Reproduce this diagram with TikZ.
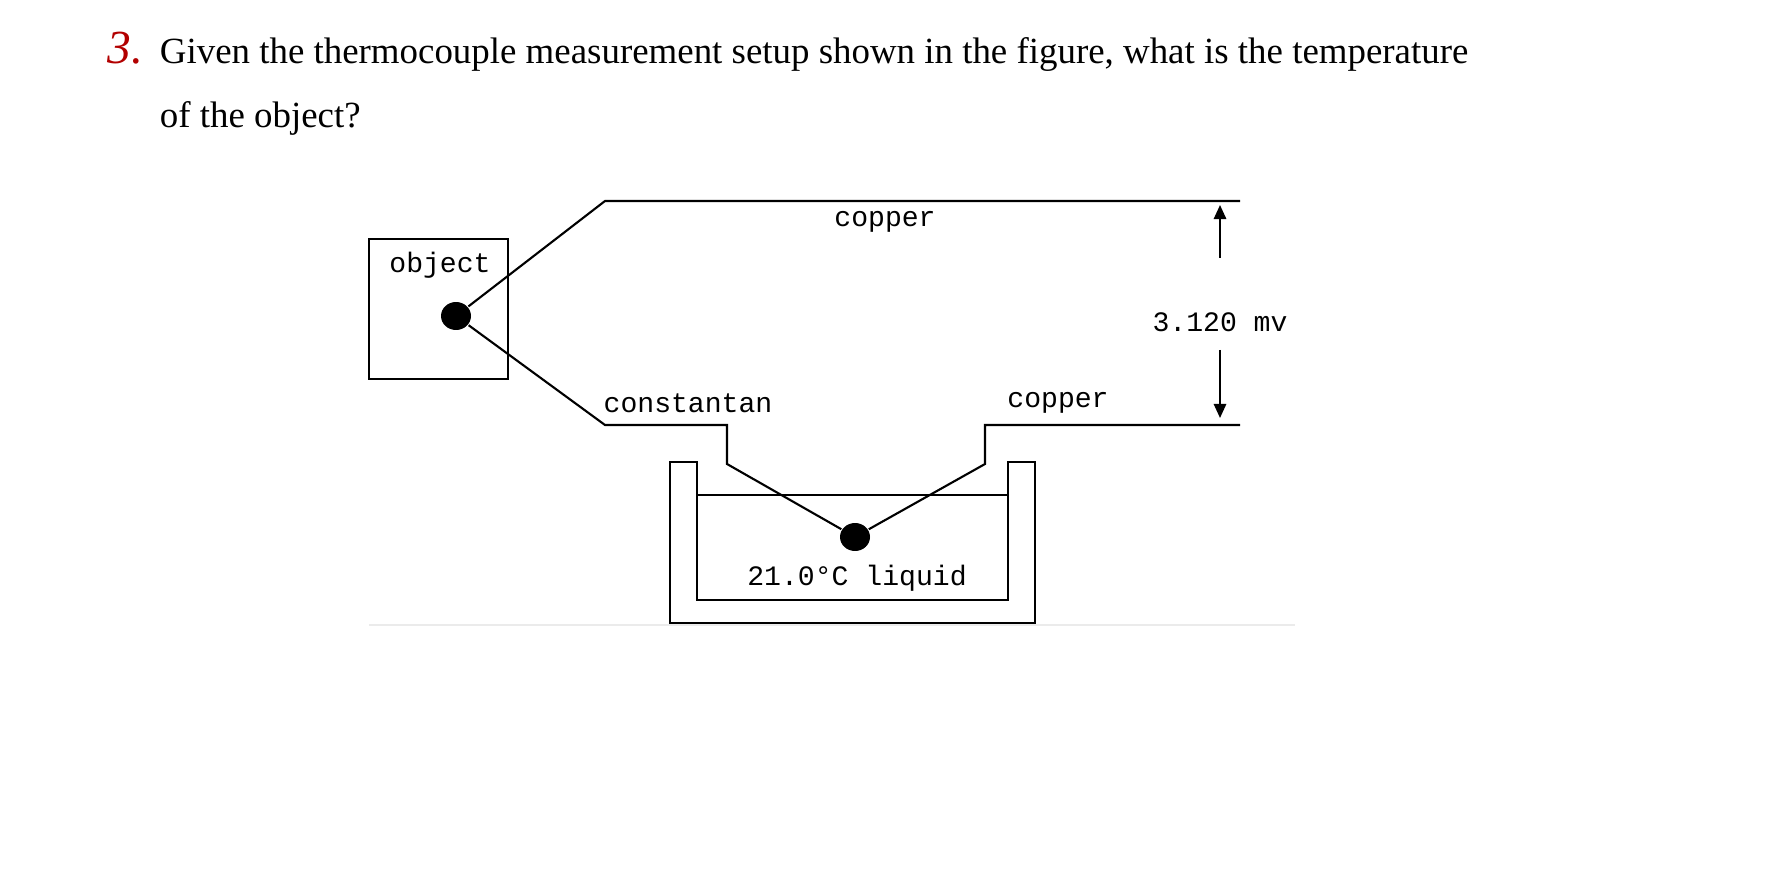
\documentclass[tikz,border=0pt]{standalone}
\usepackage{fontspec}
\setmainfont{Liberation Serif}
\newfontfamily\labelfont{Liberation Mono}
\usepackage{tikz}
\usetikzlibrary{arrows.meta,shapes.geometric}
\begin{document}
\begin{tikzpicture}[x=0.02cm,y=-0.02cm,line width=1.2pt,
  lbl/.style={font=\labelfont\fontsize{16}{18}\selectfont},
  dot/.style={ellipse,fill=black,minimum width=0.6cm,minimum height=0.56cm,inner sep=0pt}]
\useasboundingbox (0,0) rectangle (1787,891);

% question
\node[anchor=base west,font=\fontsize{27}{30}\selectfont,text=red!70!black] at (101,64) {\textit{3.}};
\node[anchor=base west,font=\fontsize{21}{26}\selectfont] at (153,64) {Given the thermocouple measurement setup shown in the figure, what is the temperature};
\node[anchor=base west,font=\fontsize{21}{26}\selectfont] at (153,128) {of the object?};

% object box and junction
\draw (369,239) rectangle (508,379);
\node[lbl] (obj) at (440,265) {object};
\node[dot] (j1) at (456,316) {};

% bath
\draw (697,600) -- (697,462) -- (670,462) -- (670,623) -- (1035,623) -- (1035,462) -- (1008,462) -- (1008,600) -- cycle;
\draw (697,495) -- (1008,495);
\node[dot] (j2) at (855,537) {};
\node[lbl] (liq) at (857,578) {21.0\textdegree C liquid};

% wires
\coordinate (t1) at (605,201);
\coordinate (t2) at (1240,201);
\coordinate (b1) at (605,425);
\coordinate (b2) at (727,425);
\coordinate (b3) at (727,464);
\coordinate (c1) at (985,464);
\coordinate (c2) at (985,425);
\coordinate (c3) at (1240,425);
\draw (j1) -- (t1) -- (t2);
\draw (j1) -- (b1) -- (b2) -- (b3) -- (j2);
\draw (j2) -- (c1) -- (c2) -- (c3);
\node[lbl] at (885,222) {copper};
\node[lbl] at (688,403) {constantan};
\node[lbl] at (1058,403) {copper};

% voltage
\node[lbl] (v) at (1220,322) {3.120 mv};
\draw[-{Triangle[length=8pt,width=7pt]}] (1220,258) -- (1220,205);
\draw[-{Triangle[length=8pt,width=7pt]}] (1220,350) -- (1220,418);

\draw[black!8,line width=0.6pt] (369,625) -- (1295,625);
\end{tikzpicture}
\end{document}
